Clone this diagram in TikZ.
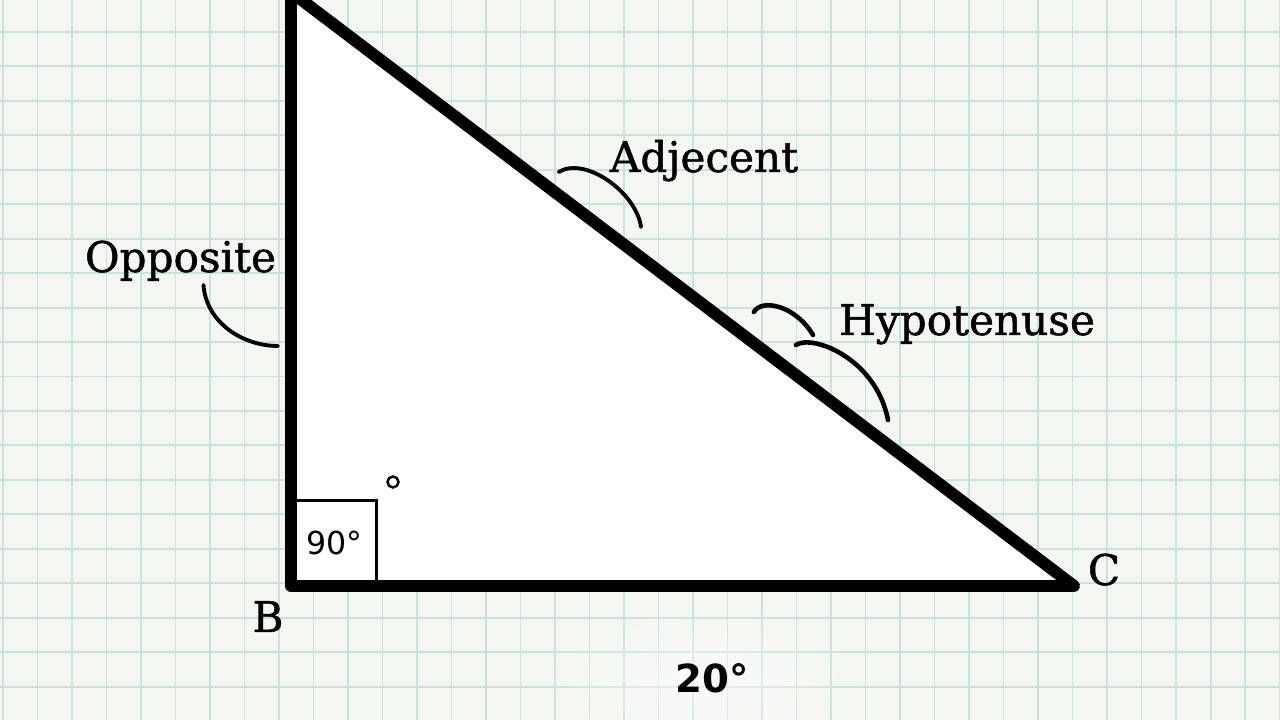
\documentclass[tikz,border=0pt]{standalone}
\usepackage{fontspec}
\setmainfont{DejaVu Serif}
\setsansfont{DejaVu Sans}
\newfontfamily\labelfont{DejaVu Serif}[FakeBold=1.2]
\usetikzlibrary{fadings}

\definecolor{paper}{RGB}{244,246,241}
\definecolor{gridblue}{RGB}{200,226,222}

\tikzfading[name=glowfade, inner color=transparent!45, outer color=transparent!100]

\begin{document}
\begin{tikzpicture}[
    gridline/.style={draw=gridblue, line width=0.55pt},
    side/.style={line width=3.4pt, line join=round},
    label/.style={inner sep=1pt, font=\labelfont\fontsize{12}{14}\selectfont},
    stroke/.style={line width=1.1pt, line cap=round},
    anglebox/.style={draw, line width=0.85pt, minimum size=0.84cm, inner sep=0pt, font=\sffamily\fontsize{9}{10}\selectfont}
  ]
      % Variables
      \def \cellx {0.345}
      \def \celly {0.3445}

      % Paper
      \fill[paper] (0,0) rectangle (12.8,7.2);
      \useasboundingbox (0,0) rectangle (12.8,7.2);

      % Grid
      \foreach \i in {0,...,37}
        \draw[gridline] ({0.03+\cellx*\i},0) -- ({0.03+\cellx*\i},7.2);
      \foreach \j in {0,...,19}
        \draw[gridline] (0,{6.88-\celly*\j}) -- (12.8,{6.88-\celly*\j});

      % Glow
      \fill[white, path fading=glowfade] (7.0,0.4) ellipse (1.7 and 0.75);

      % Triangle
      \coordinate (A) at (2.91,7.28);
      \coordinate (B) at (2.91,1.34);
      \coordinate (C) at (10.74,1.34);
      \filldraw[fill=white, side] (A) -- (B) -- (C) -- cycle;

      % Right angle
      \node[anglebox, anchor=south west] (rightangle) at (B) {90°};
      \node[circle, draw, line width=0.7pt, minimum size=0.11cm, inner sep=0pt] (dot) at (3.93,2.38) {};

      % Labels
      \node[label, anchor=base] (opposite) at (1.805,4.48) {Opposite};
      \node[label, anchor=base] (adjecent) at (7.04,5.48) {Adjecent};
      \node[label, anchor=base] (hypotenuse) at (9.67,3.85) {Hypotenuse};
      \node[label, anchor=base] (labelB) at (2.68,0.88) {B};
      \node[label, anchor=base] (labelC) at (11.04,1.35) {C};
      \node[anchor=base, font=\sffamily\bfseries\fontsize{11}{12}\selectfont] (angleC) at (7.12,0.27) {20°};

      % Arc ends near the sides
      \coordinate (oppTip) at (2.78,3.74);
      \coordinate (adjTip) at (6.41,4.93);
      \coordinate (hypTipA) at (8.13,3.85);
      \coordinate (hypTipB) at (8.88,3.00);

      % Arcs
      \draw[stroke] ([xshift=0.23cm]opposite.south) .. controls (2.06,3.98) and (2.42,3.74) .. (oppTip);
      \draw[stroke] ([xshift=-0.47cm]adjecent.base west) .. controls (5.85,5.64) and (6.36,5.28) .. (adjTip);
      \draw[stroke, line width=1.3pt] ([xshift=-0.81cm, yshift=0.23cm]hypotenuse.base west) .. controls (7.62,4.22) and (7.96,4.14) .. (hypTipA);
      \draw[stroke, line width=1.3pt] ([xshift=-0.39cm, yshift=-0.10cm]hypotenuse.base west) .. controls (8.12,3.86) and (8.76,3.62) .. (hypTipB);

\end{tikzpicture}
\end{document}
